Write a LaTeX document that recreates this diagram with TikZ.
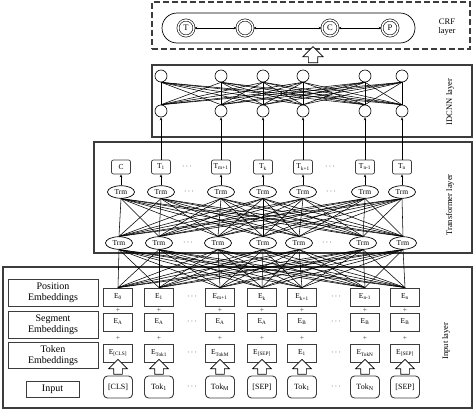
\documentclass[tikz,border=0pt]{standalone}
\usepackage{fontspec}
\setmainfont{Liberation Serif}
\usetikzlibrary{arrows.meta,shapes.geometric,shapes.arrows}
\definecolor{bx}{RGB}{60, 60, 60}

\begin{document}
\begin{tikzpicture}[
  layerbox/.style={draw=bx, line width=1.3pt, minimum width=#1, inner sep=0pt},
  crfbox/.style={draw=bx, line width=1.5pt, dash pattern=on 6pt off 3pt, inner sep=0pt},
  state/.style={circle, draw=black, double, double distance=1.5pt, line width=0.6pt, minimum size=16pt, inner sep=0pt, font=\fontsize{8.5}{8.5}\selectfont},
  unit/.style={circle, draw=black, line width=0.6pt, minimum size=12pt, inner sep=0pt},
  trm/.style={ellipse, draw=black, line width=0.7pt, minimum width=27pt, minimum height=12.5pt, inner sep=0pt, font=\fontsize{7.5}{7.5}\selectfont},
  tok/.style={rectangle, rounded corners=2pt, draw=bx, line width=0.7pt, minimum width=19pt, minimum height=14pt, inner sep=2pt, font=\fontsize{7.5}{7.5}\selectfont},
  emb/.style={rectangle, draw=bx, line width=0.9pt, minimum width=29pt, minimum height=18pt, inner sep=1pt, font=\fontsize{7.5}{7.5}\selectfont},
  inp/.style={rectangle, rounded corners=4pt, draw=bx, line width=0.9pt, minimum width=29pt, minimum height=22pt, inner sep=1pt, font=\fontsize{8}{8}\selectfont},
  namebox/.style={rectangle, draw=bx, line width=0.9pt, minimum width=90pt, minimum height=24pt, align=center, font=\fontsize{10}{11}\selectfont},
  layername/.style={align=center, font=\fontsize{8.5}{9.5}\selectfont},
  dots/.style={font=\fontsize{8}{8}\selectfont},
  plus/.style={font=\fontsize{7.5}{7.5}\selectfont, text=bx},
  wire/.style={line width=0.55pt, color=black},
  arr/.style={line width=0.6pt, color=black, -{Stealth[length=3pt, width=2.5pt]}},
  biarr/.style={line width=0.6pt, color=black, {Stealth[length=3pt, width=2.5pt]}-{Stealth[length=3pt, width=2.5pt]}},
  hollow/.style={single arrow, draw=black, fill=white, line width=0.7pt, rotate=90, inner sep=4pt, single arrow head extend=5pt, minimum width=18pt, minimum height=#1}
]
\useasboundingbox (0pt,0pt) rectangle (474pt,-410pt);

% layer frames
\node (crf) [crfbox, minimum width=318pt, minimum height=47pt] at (311pt, -25.5pt) {};
\node (idcnn) [layerbox=320pt, minimum height=72pt] at (312pt, -101pt) {};
\node (trans) [layerbox=378pt, minimum height=111pt] at (283pt, -197.5pt) {};
\node (input) [layerbox=469pt, minimum height=141pt] at (237.5pt, -337.5pt) {};

% CRF layer
\node (pill) [draw=black, line width=0.7pt, rounded corners=15pt, minimum width=253pt, minimum height=30pt] at (288.5pt, -28pt) {};
\node (r1) [state] at (186pt, -28pt) {T};
\node (r2) [state] at (245pt, -28pt) {};
\node (r3) [state] at (330pt, -28pt) {C};
\node (r4) [state] at (390pt, -28pt) {P};
\draw [biarr] (r1) -- (r2);
\draw [biarr] (r2) -- (r3);
\draw [biarr] (r3) -- (r4);
\node (crflabel) [layername] at (447pt, -27pt) {CRF\\layer};
\node (up) [hollow=16pt, minimum width=20pt] at (313pt, -57pt) {};

% IDCNN layer
\node (idt1) [unit] at (161pt, -76pt) {};
\node (idt2) [unit] at (221pt, -76pt) {};
\node (idt3) [unit] at (263pt, -76pt) {};
\node (idt4) [unit] at (303pt, -76pt) {};
\node (idt5) [unit] at (365pt, -76pt) {};
\node (idt6) [unit] at (402pt, -76pt) {};
\node (idb1) [unit] at (161pt, -111pt) {};
\node (idb2) [unit] at (221pt, -111pt) {};
\node (idb3) [unit] at (263pt, -111pt) {};
\node (idb4) [unit] at (303pt, -111pt) {};
\node (idb5) [unit] at (365pt, -111pt) {};
\node (idb6) [unit] at (402pt, -111pt) {};
\foreach \i in {1,...,6}
  \foreach \j in {1,...,6}
    \draw [wire] (idb\i.north) -- (idt\j.south);
\node (idcnnlabel) [layername, rotate=90] at (450pt, -102pt) {IDCNN layer};

% Transformer layer
\node (t1) [tok] at (121pt, -167pt) {C};
\node (t2) [tok] at (161pt, -167pt) {T\textsubscript{1}};
\node (t3) [tok] at (221pt, -167pt) {T\textsubscript{m+1}};
\node (t4) [tok] at (263pt, -167pt) {T\textsubscript{k}};
\node (t5) [tok] at (303pt, -167pt) {T\textsubscript{k+1}};
\node (t6) [tok] at (365pt, -167pt) {T\textsubscript{n-1}};
\node (t7) [tok] at (402pt, -167pt) {T\textsubscript{n}};
\node (u1) [trm] at (121pt, -192pt) {Trm};
\node (u2) [trm] at (161pt, -192pt) {Trm};
\node (u3) [trm] at (221pt, -192pt) {Trm};
\node (u4) [trm] at (263pt, -192pt) {Trm};
\node (u5) [trm] at (303pt, -192pt) {Trm};
\node (u6) [trm] at (365pt, -192pt) {Trm};
\node (u7) [trm] at (402pt, -192pt) {Trm};
\node (l1) [trm] at (119pt, -243pt) {Trm};
\node (l2) [trm] at (159pt, -243pt) {Trm};
\node (l3) [trm] at (218pt, -243pt) {Trm};
\node (l4) [trm] at (263pt, -243pt) {Trm};
\node (l5) [trm] at (299pt, -243pt) {Trm};
\node (l6) [trm] at (363pt, -243pt) {Trm};
\node (l7) [trm] at (403pt, -243pt) {Trm};
\node (td1) [dots] at (187pt, -167pt) {$\cdots$};
\node (td2) [dots] at (330pt, -167pt) {$\cdots$};
\node (ud1) [dots] at (189pt, -192pt) {$\cdots$};
\node (ud2) [dots] at (331pt, -192pt) {$\cdots$};
\node (ld1) [dots] at (188pt, -243pt) {$\cdots$};
\node (ld2) [dots] at (327pt, -243pt) {$\cdots$};
\foreach \i in {1,...,7}
  \draw [arr] (u\i) -- (t\i);
\foreach \i/\j in {2/1, 3/2, 4/3, 5/4, 6/5, 7/6}
  \draw [arr] (t\i) -- (idb\j);
\foreach \i in {1,...,7}
  \foreach \j in {1,...,7}
    \draw [wire] (l\i.north) -- (u\j.south);
\node (translabel) [layername, rotate=90] at (450pt, -205pt) {Transformer layer};

% Input layer
\node (posname) [namebox] at (53pt, -293pt) {Position\\Embeddings};
\node (segname) [namebox] at (53pt, -325pt) {Segment\\Embeddings};
\node (tokname) [namebox, minimum height=25pt] at (53pt, -355.5pt) {Token\\Embeddings};
\node (inpname) [namebox, minimum width=53pt, minimum height=16pt] at (52.5pt, -389pt) {Input};
\node (p1) [emb] at (118pt, -297pt) {E\textsubscript{0}};
\node (p2) [emb] at (159pt, -297pt) {E\textsubscript{1}};
\node (p3) [emb] at (220pt, -297pt) {E\textsubscript{m+1}};
\node (p4) [emb] at (262pt, -297pt) {E\textsubscript{k}};
\node (p5) [emb] at (302pt, -297pt) {E\textsubscript{k+1}};
\node (p6) [emb] at (365pt, -297pt) {E\textsubscript{n-1}};
\node (p7) [emb] at (405pt, -297pt) {E\textsubscript{n}};
\node (s1) [emb] at (118pt, -322pt) {E\textsubscript{A}};
\node (s2) [emb] at (159pt, -322pt) {E\textsubscript{A}};
\node (s3) [emb] at (220pt, -322pt) {E\textsubscript{A}};
\node (s4) [emb] at (262pt, -322pt) {E\textsubscript{A}};
\node (s5) [emb] at (302pt, -322pt) {E\textsubscript{B}};
\node (s6) [emb] at (365pt, -322pt) {E\textsubscript{B}};
\node (s7) [emb] at (405pt, -322pt) {E\textsubscript{B}};
\node (k1) [emb] at (118pt, -353pt) {E\textsubscript{[CLS]}};
\node (k2) [emb] at (159pt, -353pt) {E\textsubscript{Tok1}};
\node (k3) [emb] at (220pt, -353pt) {E\textsubscript{TokM}};
\node (k4) [emb] at (262pt, -353pt) {E\textsubscript{[SEP]}};
\node (k5) [emb] at (302pt, -353pt) {E\textsubscript{1}};
\node (k6) [emb] at (365pt, -353pt) {E\textsubscript{TokN}};
\node (k7) [emb] at (405pt, -353pt) {E\textsubscript{[SEP]}};
\node (i1) [inp] at (118pt, -387pt) {[CLS]};
\node (i2) [inp] at (159pt, -387pt) {Tok\textsubscript{1}};
\node (i3) [inp] at (220pt, -387pt) {Tok\textsubscript{M}};
\node (i4) [inp] at (262pt, -387pt) {[SEP]};
\node (i5) [inp] at (302pt, -387pt) {Tok\textsubscript{1}};
\node (i6) [inp] at (365pt, -387pt) {Tok\textsubscript{N}};
\node (i7) [inp] at (405pt, -387pt) {[SEP]};
\foreach \y in {-297pt, -322pt, -353pt, -387pt} {
  \node [dots] at (192pt, \y) {$\cdots$};
  \node [dots] at (336pt, \y) {$\cdots$};
}
\foreach \x in {118pt, 159pt, 220pt, 262pt, 302pt, 365pt, 405pt} {
  \node [plus] at (\x, -310pt) {+};
  \node [plus] at (\x, -338pt) {+};
  \node [hollow=15pt] at (\x, -369pt) {};
}
\foreach \i in {1,...,7}
  \foreach \j in {1,...,7}
    \draw [wire] (p\i.north) -- (l\j.south);
\node (inputlabel) [layername, rotate=90] at (446pt, -341pt) {Input layer};
\end{tikzpicture}
\end{document}
